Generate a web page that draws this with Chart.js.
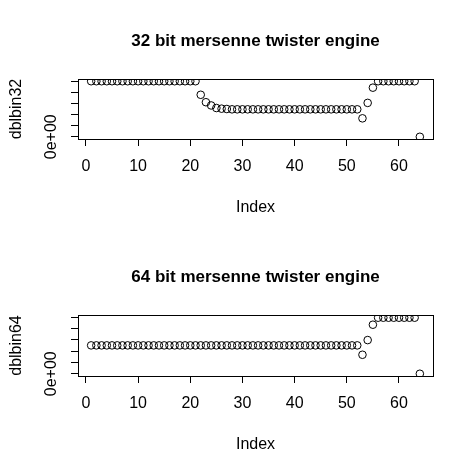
<!DOCTYPE html>
<html><head><meta charset="utf-8">
<script src="https://cdn.jsdelivr.net/npm/chart.js@4"></script>
<style>html,body{margin:0;padding:0;background:#fff;}
.w{position:absolute;left:0;width:474px;height:236px;}</style>
</head><body>
<div class="w" style="top:0"><canvas id="c1"></canvas></div>
<div class="w" style="top:236px"><canvas id="c2"></canvas></div>
<script>
const index = Array.from({length:64},(_,i)=>i+1);
const dblbin32 = [5,5,5,5,5,5,5,5,5,5,5,5,5,5,5,5,5,5,5,5,5,
  3.78,3.11,2.82,2.59,2.53,2.5,
  2.47,2.47,2.47,2.47,2.47,2.47,2.47,2.47,2.47,2.47,2.47,2.47,2.47,2.47,2.47,2.47,2.47,2.47,2.47,2.47,2.47,2.47,2.47,2.47,2.47,
  1.66,3.05,4.42,5,5,5,5,5,5,5,5,0];
const dblbin64 = [2.51,2.51,2.51,2.51,2.51,2.51,2.51,2.51,2.51,2.51,2.51,2.51,2.51,2.51,2.51,2.51,2.51,2.51,2.51,2.51,
  2.51,2.51,2.51,2.51,2.51,2.51,2.51,2.51,2.51,2.51,2.51,2.51,2.51,2.51,2.51,2.51,2.51,2.51,2.51,2.51,
  2.51,2.51,2.51,2.51,2.51,2.51,2.51,2.51,2.51,2.51,2.51,2.51,
  1.68,2.98,4.34,4.96,4.96,4.96,4.96,4.96,4.96,4.96,4.96,0];
const xTicks = [0,10,20,30,40,50,60];
const yTicks = [0,1,2,3,4,5];

const FONT = "'Liberation Sans', Arial, sans-serif";
const deco = {
  id:'deco',
  afterDraw(chart){
    const {ctx, chartArea:a} = chart;
    ctx.save();
    ctx.strokeStyle='#000'; ctx.lineWidth=1;
    ctx.strokeRect(a.left+0.5,a.top+0.5,a.right-a.left,a.bottom-a.top);
    ctx.fillStyle='#000';
    ctx.font='bold 17px '+FONT; ctx.textAlign='center'; ctx.textBaseline='middle';
    ctx.fillText(chart.options.plugins.deco.title,(a.left+a.right)/2,41);
    const y0 = chart.scales.y.getPixelForValue(0);
    ctx.translate(52,y0); ctx.rotate(-Math.PI/2);
    ctx.font='16px '+FONT;
    ctx.fillText('0e+00',0,0);
    ctx.restore();
  }
};
function make(id, title, ylab, vals){
  new Chart(document.getElementById(id),{
    type:'scatter',
    data:{datasets:[{data:index.map((x,i)=>({x,y:vals[i]})),
      pointStyle:'circle',pointRadius:3.8,borderColor:'#000',backgroundColor:'rgba(0,0,0,0)',borderWidth:1}]},
    options:{
      responsive:false, animation:false, devicePixelRatio:1,
      layout:{padding:{left:0,right:41,top:79,bottom:0}},
      plugins:{legend:{display:false},tooltip:{enabled:false},title:{display:false},deco:{title}},
      scales:{
        x:{type:'linear',min:-1.52,max:66.52,
          afterBuildTicks(s){s.ticks=xTicks.map(v=>({value:v}));},
          afterFit(s){s.height=97;},
          grid:{drawOnChartArea:false,drawTicks:true,tickLength:7,color:'#000'},
          border:{display:false},
          ticks:{color:'#000',font:{family:FONT,size:16},padding:11,maxRotation:0,autoSkip:false},
          title:{display:true,text:'Index',color:'#000',font:{family:FONT,size:16},padding:{top:0,bottom:19}}},
        y:{min:-0.2,max:5.2,
          afterBuildTicks(s){s.ticks=yTicks.map(v=>({value:v}));},
          afterFit(s){s.width=78;},
          grid:{drawOnChartArea:false,drawTicks:true,tickLength:7,color:'#000'},
          border:{display:false},
          ticks:{display:true,callback:()=>'',padding:0,autoSkip:false},
          title:{display:true,text:ylab,color:'#000',font:{family:FONT,size:16},padding:{top:7,bottom:0}}}
      }
    },
    plugins:[deco]
  });
}
document.getElementById('c1').width=474;document.getElementById('c1').height=236;
document.getElementById('c2').width=474;document.getElementById('c2').height=237;
make('c1','32 bit mersenne twister engine','dblbin32',dblbin32);
make('c2','64 bit mersenne twister engine','dblbin64',dblbin64);
</script></body></html>
